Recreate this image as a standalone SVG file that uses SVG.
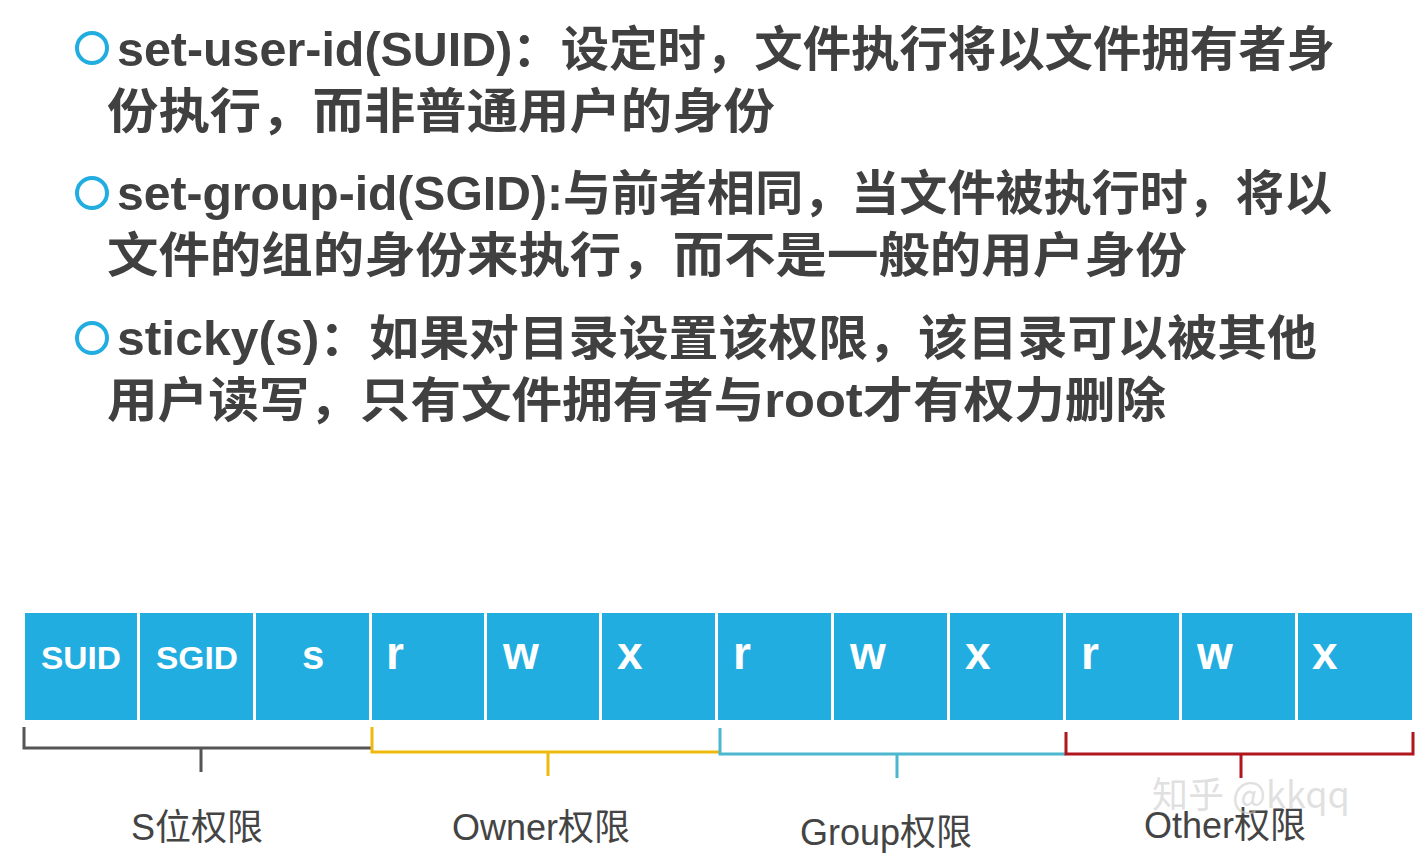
<svg xmlns="http://www.w3.org/2000/svg" width="1428" height="862" viewBox="0 0 1428 862">
<style>
.t{font-family:"Liberation Sans","Noto Sans CJK SC",sans-serif;font-weight:bold;font-size:48px;fill:#404040}
.c{fill:#22ade0}
.cl{font-family:"Liberation Sans",sans-serif;font-weight:bold;fill:#fff}
.lb{font-family:"Liberation Sans","Noto Sans CJK SC",sans-serif;font-size:36px;fill:#444;text-anchor:middle}
.b{fill:none;stroke-width:3}
</style>
<rect width="1428" height="862" fill="#fff"/>
<g id="bullets" fill="none" stroke="#22ade0">
<ellipse cx="92" cy="48" rx="15" ry="15" stroke-width="4"/>
<ellipse cx="92" cy="193" rx="15" ry="15" stroke-width="4"/>
<ellipse cx="92" cy="338" rx="15" ry="15" stroke-width="4"/>
</g>
<g id="text">
<text class="t" x="117" y="66" textLength="1218" lengthAdjust="spacingAndGlyphs">set-user-id(SUID)：设定时，文件执行将以文件拥有者身</text>
<text class="t" x="107" y="128" textLength="668" lengthAdjust="spacingAndGlyphs">份执行，而非普通用户的身份</text>
<text class="t" x="117" y="210" textLength="1215" lengthAdjust="spacingAndGlyphs">set-group-id(SGID):与前者相同，当文件被执行时，将以</text>
<text class="t" x="107" y="272" textLength="1080" lengthAdjust="spacingAndGlyphs">文件的组的身份来执行，而不是一般的用户身份</text>
<text class="t" x="117" y="355" textLength="1200" lengthAdjust="spacingAndGlyphs">sticky(s)：如果对目录设置该权限，该目录可以被其他</text>
<text class="t" x="107" y="417" textLength="1059" lengthAdjust="spacingAndGlyphs">用户读写，只有文件拥有者与root才有权力删除</text>
</g>
<g id="cells">
<rect class="c" x="25" y="613" width="112" height="107"/>
<rect class="c" x="140" y="613" width="113" height="107"/>
<rect class="c" x="256" y="613" width="113" height="107"/>
<rect class="c" x="372" y="613" width="112" height="107"/>
<rect class="c" x="487" y="613" width="112" height="107"/>
<rect class="c" x="602" y="613" width="113" height="107"/>
<rect class="c" x="718" y="613" width="113" height="107"/>
<rect class="c" x="834" y="613" width="113" height="107"/>
<rect class="c" x="950" y="613" width="113" height="107"/>
<rect class="c" x="1066" y="613" width="113" height="107"/>
<rect class="c" x="1182" y="613" width="113" height="107"/>
<rect class="c" x="1298" y="613" width="114" height="107"/>
<text class="cl" x="81" y="669" font-size="32" text-anchor="middle" textLength="80" lengthAdjust="spacingAndGlyphs">SUID</text>
<text class="cl" x="197" y="669" font-size="32" text-anchor="middle" textLength="82" lengthAdjust="spacingAndGlyphs">SGID</text>
<text class="cl" x="313" y="669" font-size="40" text-anchor="middle">s</text>
<text class="cl" font-size="46" y="669" x="386">r</text>
<text class="cl" font-size="46" y="669" x="503">w</text>
<text class="cl" font-size="46" y="669" x="617">x</text>
<text class="cl" font-size="46" y="669" x="733">r</text>
<text class="cl" font-size="46" y="669" x="850">w</text>
<text class="cl" font-size="46" y="669" x="965">x</text>
<text class="cl" font-size="46" y="669" x="1081">r</text>
<text class="cl" font-size="46" y="669" x="1197">w</text>
<text class="cl" font-size="46" y="669" x="1312">x</text>
</g>
<g id="connectors">
<path class="b" stroke="#555" stroke-width="2" d="M24 727V748H372M201 748V772"/>
<path class="b" stroke="#f0b90f" d="M372 727V752H720M548 752V776"/>
<path class="b" stroke="#4bb8cf" d="M720 728V754H1066M897 754V778"/>
<path class="b" stroke="#b0161c" d="M1066 732V754H1413V732M1241 754V778"/>
</g>
<g id="labels">
<text class="lb" x="197" y="840">S位权限</text>
<text class="lb" x="541" y="840">Owner权限</text>
<text class="lb" x="886" y="845">Group权限</text>
<text class="lb" x="1225" y="838">Other权限</text>
<text x="1152" y="808" font-family="'Noto Sans CJK SC',sans-serif" font-size="36" fill="#ccc" fill-opacity="0.6">知乎 @kkqq</text>
</g>
</svg>
